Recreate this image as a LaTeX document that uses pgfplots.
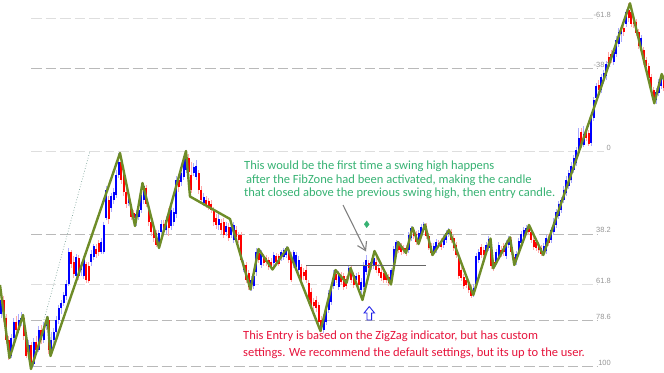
\documentclass[border=0pt]{standalone}
\usepackage{fontspec}
\setmainfont{Carlito}
\newfontfamily\labelfont{Liberation Sans}
\usepackage{pgfplots}
\usepackage{pgfplotstable}
\pgfplotsset{compat=1.18}
\usetikzlibrary{arrows.meta}
\definecolor{bullbody}{RGB}{0,0,255}
\definecolor{bearbody}{RGB}{255,0,0}
\definecolor{bullwick}{RGB}{170,170,255}
\definecolor{bearwick}{RGB}{255,170,170}
\definecolor{zz}{RGB}{110,140,40}
\definecolor{txtgreen}{RGB}{55,178,115}
\definecolor{txtred}{RGB}{230,20,60}
\definecolor{fiblight}{RGB}{222,222,222}
\definecolor{fibdark}{RGB}{185,185,185}
\definecolor{fiblabel}{RGB}{150,150,150}
\definecolor{dotc}{RGB}{120,160,150}
\definecolor{arrowblue}{RGB}{30,30,230}

% candles: k = bar index (x = 1.25 + 2.5 k), o/c/h/l = price in chart rows (top = 0)
\pgfplotstableread{
k o c h l
0 314 300 292 318
1 300 318 296 322
2 318 340 314 344
3 340 356 336 360
4 356 338 334 358
5 338 322 318 342
6 322 330 316 334
7 330 320 314 333
8 320 318 312 326
9 318 336 314 340
10 336 356 332 358
11 356 345 340 360
12 345 364 342 369
13 364 342 338 367
14 342 350 336 354
15 350 330 326 352
16 330 340 325 344
17 340 326 322 343
18 326 320 316 330
19 320 350 318 354
20 350 340 332 356
21 340 332 328 345
22 332 320 316 336
23 320 308 305 324
24 308 303 300 314
25 303 295 292 306
26 296 284 280 300
27 284 252 248 286
28 252 264 250 268
29 262 274 256 278
30 276 257 254 280
31 258 276 255 280
32 270 266 262 276
33 276 258 256 279
34 264 280 262 283
35 266 281 262 283
36 262 254 250 266
37 257 246 244 260
38 249 254 244 258
39 243 252 240 256
40 252 242 238 254
41 252 225 222 254
42 218 190 186 220
43 200 219 196 224
44 208 196 193 212
45 200 192 188 204
46 195 175 170 198
47 175 162 153 178
48 162 180 156 184
49 172 192 168 196
50 192 204 188 208
51 203 198 194 206
52 208 217 205 220
53 213 218 210 222
54 222 214 210 226
55 217 210 206 220
56 210 195 190 213
57 200 186 183 204
58 188 204 185 207
59 207 222 204 226
60 222 232 218 236
61 230 238 226 242
62 233 245 230 247
63 245 233 230 248
64 232 224 220 236
65 224 232 220 235
66 230 220 216 234
67 212 228 208 236
68 226 210 206 230
69 222 212 208 226
70 214 180 176 218
71 180 187 176 192
72 182 173 168 186
73 177 160 156 180
74 170 155 151 173
75 158 172 154 176
76 175 190 162 193
77 173 167 163 176
78 177 166 160 180
79 173 190 170 194
80 190 200 186 204
81 203 197 193 206
82 200 205 196 208
83 201 207 198 210
84 204 210 200 213
85 210 222 207 226
86 218 225 214 229
87 225 219 214 230
88 223 230 219 234
89 222 235 218 238
90 232 226 222 236
91 227 238 223 241
92 235 227 222 238
93 240 225 222 243
94 230 237 226 240
95 235 240 232 243
96 235 260 232 262
97 270 265 260 272
98 265 280 262 283
99 273 287 270 290
100 285 280 276 291
101 286 276 272 289
102 272 252 248 276
103 253 260 248 263
104 265 254 250 268
105 257 263 254 266
106 258 262 255 266
107 260 267 257 270
108 262 267 258 270
109 263 255 252 268
110 256 262 253 264
111 256 264 254 266
112 258 252 250 261
113 257 250 248 260
114 255 248 246 258
115 252 260 249 263
116 255 280 252 282
117 265 252 250 268
118 267 255 252 270
119 270 260 256 273
120 267 280 264 283
121 272 276 268 280
122 270 280 266 283
123 283 300 280 303
124 292 307 288 310
125 302 306 298 310
126 300 308 296 312
127 305 322 302 325
128 320 330 316 332
129 330 317 314 333
130 322 308 305 325
131 310 293 290 313
132 302 287 284 305
133 286 274 270 289
134 274 280 270 283
135 287 274 271 290
136 276 282 272 285
137 276 287 273 290
138 279 286 276 289
139 275 268 265 278
140 270 280 266 283
141 275 285 272 288
142 280 276 273 284
143 275 285 272 289
144 290 282 278 300
145 287 266 262 290
146 272 260 255 275
147 263 268 260 271
148 266 262 258 270
149 266 258 251 269
150 262 270 258 273
151 268 273 264 276
152 272 278 268 281
153 273 280 270 283
154 275 280 272 283
155 277 283 274 286
156 282 270 268 285
157 267 249 246 270
158 252 242 240 255
159 245 250 242 253
160 246 252 243 255
161 248 251 245 254
162 248 253 245 256
163 250 235 232 253
164 238 228 226 241
165 231 236 228 239
166 234 242 231 245
167 240 233 230 244
168 235 227 224 238
169 230 224 222 232
170 226 236 223 239
171 236 248 233 250
172 246 253 243 256
173 252 246 243 255
174 250 242 239 253
175 243 245 240 248
176 241 247 238 250
177 245 238 235 248
178 240 233 230 243
179 234 230 228 237
180 232 240 229 243
181 238 248 235 251
182 245 255 242 258
183 258 276 255 279
184 270 278 267 281
185 277 286 274 289
186 280 285 277 288
187 284 290 281 293
188 288 296 285 298
189 293 288 284 297
190 284 256 253 287
191 260 252 249 263
192 247 255 244 258
193 250 255 247 258
194 252 245 242 255
195 248 239 236 251
196 243 266 240 269
197 262 268 259 271
198 262 252 249 265
199 257 245 242 260
200 250 254 246 257
201 246 252 243 256
202 256 243 240 259
203 245 238 236 248
204 240 252 237 255
205 257 262 254 265
206 262 254 251 265
207 253 241 238 256
208 243 234 231 246
209 238 230 227 241
210 232 228 225 235
211 228 232 225 235
212 232 240 229 243
213 240 247 237 250
214 242 248 239 251
215 245 250 242 253
216 248 254 245 256
217 253 246 243 256
218 251 238 235 254
219 237 243 234 246
220 240 230 227 243
221 232 222 218 235
222 225 212 209 228
223 216 204 201 219
224 210 200 197 213
225 200 190 186 203
226 193 180 176 196
227 186 173 170 189
228 180 166 162 183
229 170 158 155 173
230 163 150 147 166
231 153 138 128 156
232 132 146 128 148
233 145 134 126 147
234 132 138 128 141
235 133 144 130 146
236 143 118 115 146
237 118 100 97 121
238 98 86 83 101
239 85 90 80 98
240 90 77 74 93
241 80 73 70 84
242 76 64 61 80
243 57 66 52 69
244 54 60 50 63
245 62 52 48 65
246 54 40 36 57
247 44 32 28 47
248 34 30 26 42
249 28 32 24 36
250 24 12 9 27
251 10 18 3 22
252 12 24 6 27
253 22 24 18 28
254 22 33 19 36
255 32 46 29 49
256 47 38 35 50
257 50 62 47 65
258 60 66 57 69
259 66 78 63 81
260 77 88 74 91
261 90 99 87 103
262 100 92 88 104
263 93 82 79 96
264 86 76 73 89
265 78 88 75 91
}\candles

\pgfplotstableread{
x y
0 285
9.5 358
23 315
31 369
47.5 317
50.5 356
120 153
135 226
142.5 183
159 248
186 151
190 196.5
230 219
250.5 289.5
258.5 249
272.5 269.5
287.5 247.5
320.5 331
335.5 270
346.5 283
350.5 268
362.5 300
374.5 251
391 284.5
398 242
406 253
412.5 227.5
418.5 244
425 224.5
432.5 255
449 230
473.3 295
490.5 238.5
493.3 268.3
510 237.3
514.3 265
529 225
543.3 255
630 3.3
654.3 103.3
661.7 74
664 80
}\zigzag

\pgfplotsset{
  candle/.style n args={3}{draw=none, mark=none, forget plot,
    restrict expr to domain={\thisrow{o}-\thisrow{c}}{#1},
    error bars/.cd, y dir=both, y explicit, error mark=none,
    error bar style={line width=#2, draw=#3, solid}},
}

\begin{document}
\begin{tikzpicture}
\begin{axis}[
  scale only axis, width=664pt, height=379pt,
  xmin=0, xmax=664, ymin=0, ymax=379, y dir=reverse,
  hide axis, clip=true,
]
% Fibonacci levels
\addplot[fiblight, line width=1pt, dash pattern=on 10.5pt off 4pt, forget plot] coordinates {(31,19) (598,19)};
\addplot[fibdark, line width=1pt, dash pattern=on 10.5pt off 4pt, forget plot] coordinates {(31,69) (598,69)};
\addplot[fiblight, line width=1pt, dash pattern=on 10.5pt off 4pt, forget plot] coordinates {(31,151.5) (604,151.5)};
\addplot[fibdark, line width=1pt, dash pattern=on 10.5pt off 4pt, forget plot] coordinates {(31,234) (598,234)};
\addplot[fiblight, line width=1pt, dash pattern=on 10.5pt off 4pt, forget plot] coordinates {(31,284.5) (598,284.5)};
\addplot[fibdark, line width=1pt, dash pattern=on 10.5pt off 4pt, forget plot] coordinates {(31,320.5) (598,320.5)};
\addplot[fibdark, line width=1pt, dash pattern=on 10.5pt off 4pt, forget plot] coordinates {(31,366.5) (598,366.5)};
\begin{scope}[every node/.style={anchor=base east, text=fiblabel, font=\labelfont\fontsize{7.5}{9}\selectfont, inner sep=0pt}]
\node at (axis cs:611,17.5) {-61.8};
\node at (axis cs:611,67.5) {-38.2};
\node at (axis cs:611,150) {0};
\node at (axis cs:611,232.5) {38.2};
\node at (axis cs:611,283) {61.8};
\node at (axis cs:611,319) {78.6};
\node at (axis cs:611,365) {100};
\end{scope}
% dotted guide
\addplot[dotc, line width=0.7pt, dotted, forget plot] coordinates {(44,320) (90,151)};
% wicks
\addplot[candle={0.001:1000}{0.9pt}{bullwick}]
  table[x expr=1.25+2.5*\thisrow{k}, y expr=(\thisrow{h}+\thisrow{l})/2, y error expr=(\thisrow{l}-\thisrow{h})/2] {\candles};
\addplot[candle={-1000:0}{0.9pt}{bearwick}]
  table[x expr=1.25+2.5*\thisrow{k}, y expr=(\thisrow{h}+\thisrow{l})/2, y error expr=(\thisrow{l}-\thisrow{h})/2] {\candles};
% bodies
\addplot[candle={0.001:1000}{2pt}{bullbody}]
  table[x expr=1.25+2.5*\thisrow{k}, y expr=(\thisrow{o}+\thisrow{c})/2, y error expr=abs(\thisrow{o}-\thisrow{c})/2] {\candles};
\addplot[candle={-1000:0}{2pt}{bearbody}]
  table[x expr=1.25+2.5*\thisrow{k}, y expr=(\thisrow{o}+\thisrow{c})/2, y error expr=abs(\thisrow{o}-\thisrow{c})/2] {\candles};
% zigzag
\addplot[zz, line width=2.4pt, line join=round, forget plot] table[x=x, y=y] {\zigzag};
% previous swing high line
\addplot[black!60, line width=1.3pt, forget plot] coordinates {(306,265.5) (426,265.5)};
% annotation arrow
\addplot[black!50, line width=1.1pt, -{Straight Barb[length=8pt, width=10pt, line width=1.1pt]}, forget plot] coordinates {(343,205) (366,251.5)};
% diamond
\addplot[only marks, mark=diamond*, mark size=3.3pt, color=txtgreen, forget plot] coordinates {(366.7,224.3)};
% hollow up arrow
\addplot[arrowblue, line width=0.9pt, forget plot] coordinates {(369.3,306.5) (374.5,313) (371.6,313) (371.6,320) (367,320) (367,313) (364.1,313) (369.3,306.5)};
% texts
\begin{scope}[every node/.style={anchor=base west, inner sep=0pt, font=\fontsize{12.5}{14}\selectfont}]
\node[text=txtgreen] at (axis cs:244,169.5) {This would be the first time a swing high happens};
\node[text=txtgreen] at (axis cs:246,183.5) {after the FibZone had been activated, making the candle};
\node[text=txtgreen] at (axis cs:244,196.5) {that closed above the previous swing high, then entry candle.};
\node[text=txtred] at (axis cs:243,339.5) {This Entry is based on the ZigZag indicator, but has custom};
\node[text=txtred] at (axis cs:243,356) {settings. We recommend the default settings, but its up to the user.};
\end{scope}
\end{axis}
\end{tikzpicture}
\end{document}
